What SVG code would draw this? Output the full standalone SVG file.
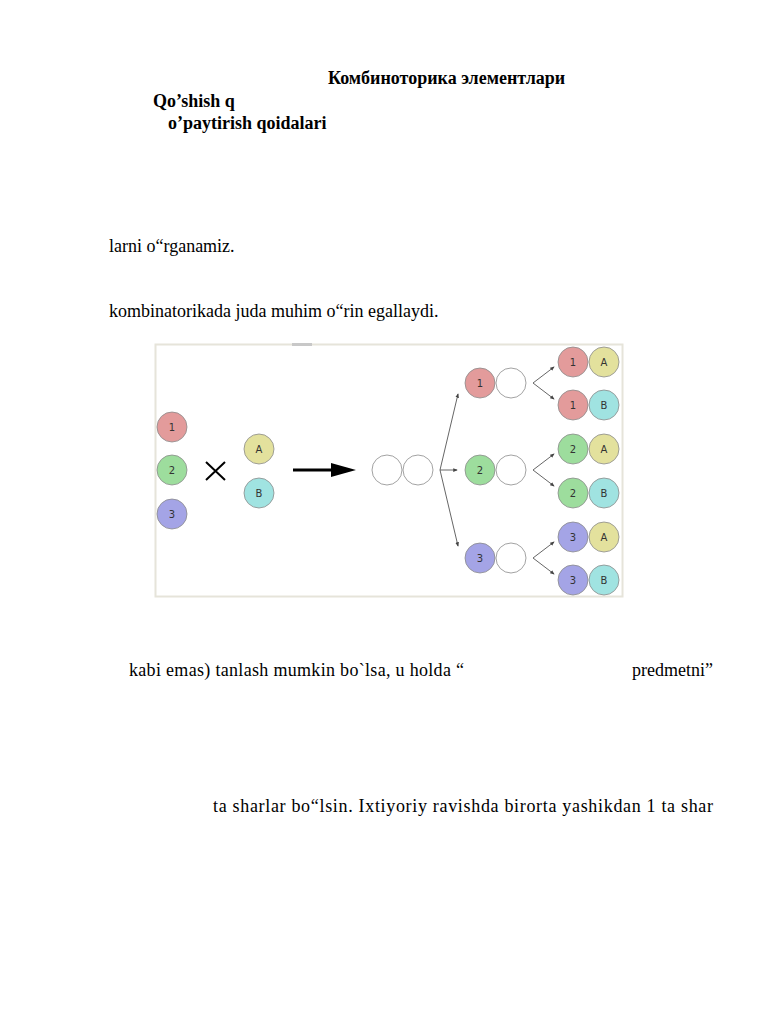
<svg xmlns="http://www.w3.org/2000/svg" width="768" height="1024" viewBox="0 0 768 1024">
<defs>
<style>
.t{font-family:"Liberation Serif","Times New Roman",serif;font-size:18px;fill:#000}
.b{font-weight:bold}
.c{stroke:#8a8a8a;stroke-width:0.8}
.r{fill:#e39b9b}.g{fill:#9ddd9d}.p{fill:#a4a4e6}.y{fill:#e3e19d}.cy{fill:#a0e3e1}.w{fill:#fff}
.l{font-family:"DejaVu Sans",sans-serif;font-size:10px;fill:#333;text-anchor:middle}
.e{stroke:#555;stroke-width:0.9;fill:none}
</style>
<marker id="ah" viewBox="0 0 6 6" refX="5" refY="3" markerWidth="5" markerHeight="5" orient="auto"><path d="M0,0.5 L6,3 L0,5.5 z" fill="#444"/></marker>
</defs>
<rect width="768" height="1024" fill="#fff"/>
<g id="texts">
<text class="t b" x="328" y="84">Комбиноторика элементлари</text>
<text class="t b" x="153" y="107">Qo’shish q</text>
<text class="t b" x="168" y="129">o’paytirish qoidalari</text>
<text class="t" x="109" y="252">larni o“rganamiz.</text>
<text class="t" x="109" y="317">kombinatorikada juda muhim o“rin egallaydi.</text>
<text class="t" x="129" y="676" textLength="335" lengthAdjust="spacing">kabi emas) tanlash mumkin bo`lsa, u holda “</text>
<text class="t" x="632" y="676">predmetni”</text>
<text class="t" x="213" y="812" textLength="500" lengthAdjust="spacing">ta sharlar bo“lsin. Ixtiyoriy ravishda birorta yashikdan 1 ta shar</text>
</g>
<g id="frame">
<rect x="155.5" y="344.5" width="467" height="252" fill="#fff" stroke="#e6e4da" stroke-width="2"/>
<rect x="292" y="343" width="20" height="3" fill="#c8c8c8"/>
</g>
<g id="connectors">
<path d="M206,462 L225,480 M225,462 L206,480" fill="none" stroke="#000" stroke-width="2"/>
<line x1="293" y1="470" x2="335" y2="470" stroke="#000" stroke-width="3"/>
<path d="M331,463 L356,470 L331,477 z" fill="#000"/>
<line class="e" x1="440" y1="470" x2="458" y2="394" marker-end="url(#ah)"/>
<line class="e" x1="440" y1="470" x2="457" y2="470" marker-end="url(#ah)"/>
<line class="e" x1="440" y1="470" x2="458" y2="546" marker-end="url(#ah)"/>
<path class="e" d="M533,383 L554,399" marker-end="url(#ah)"/>
<line class="e" x1="533" y1="383" x2="554" y2="367" marker-end="url(#ah)"/>
<path class="e" d="M533,470 L554,486" marker-end="url(#ah)"/>
<line class="e" x1="533" y1="470" x2="554" y2="454" marker-end="url(#ah)"/>
<path class="e" d="M533,558 L554,574" marker-end="url(#ah)"/>
<line class="e" x1="533" y1="558" x2="554" y2="542" marker-end="url(#ah)"/>
</g>
<g id="n-left-1"><circle class="c r" cx="172" cy="427" r="15"/><text class="l" x="172" y="431">1</text></g>
<g id="n-left-2"><circle class="c g" cx="172" cy="470" r="15"/><text class="l" x="172" y="474">2</text></g>
<g id="n-left-3"><circle class="c p" cx="172" cy="514" r="15"/><text class="l" x="172" y="518">3</text></g>
<g id="n-left-A"><circle class="c y" cx="259" cy="449" r="15"/><text class="l" x="259" y="453">A</text></g>
<g id="n-left-B"><circle class="c cy" cx="259" cy="493" r="15"/><text class="l" x="259" y="497">B</text></g>
<g id="n-empty"><circle class="c w" cx="387" cy="470" r="15"/><circle class="c w" cx="418" cy="470" r="15"/></g>
<g id="n-mid-1"><circle class="c r" cx="480" cy="383" r="15"/><text class="l" x="480" y="387">1</text><circle class="c w" cx="511" cy="383" r="15"/></g>
<g id="n-mid-2"><circle class="c g" cx="480" cy="470" r="15"/><text class="l" x="480" y="474">2</text><circle class="c w" cx="511" cy="470" r="15"/></g>
<g id="n-mid-3"><circle class="c p" cx="480" cy="558" r="15"/><text class="l" x="480" y="562">3</text><circle class="c w" cx="511" cy="558" r="15"/></g>
<g id="n-1A"><circle class="c r" cx="573" cy="362" r="15"/><text class="l" x="573" y="366">1</text><circle class="c y" cx="604" cy="362" r="15"/><text class="l" x="604" y="366">A</text></g>
<g id="n-1B"><circle class="c r" cx="573" cy="405" r="15"/><text class="l" x="573" y="409">1</text><circle class="c cy" cx="604" cy="405" r="15"/><text class="l" x="604" y="409">B</text></g>
<g id="n-2A"><circle class="c g" cx="573" cy="449" r="15"/><text class="l" x="573" y="453">2</text><circle class="c y" cx="604" cy="449" r="15"/><text class="l" x="604" y="453">A</text></g>
<g id="n-2B"><circle class="c g" cx="573" cy="493" r="15"/><text class="l" x="573" y="497">2</text><circle class="c cy" cx="604" cy="493" r="15"/><text class="l" x="604" y="497">B</text></g>
<g id="n-3A"><circle class="c p" cx="573" cy="537" r="15"/><text class="l" x="573" y="541">3</text><circle class="c y" cx="604" cy="537" r="15"/><text class="l" x="604" y="541">A</text></g>
<g id="n-3B"><circle class="c p" cx="573" cy="580" r="15"/><text class="l" x="573" y="584">3</text><circle class="c cy" cx="604" cy="580" r="15"/><text class="l" x="604" y="584">B</text></g>
</svg>
